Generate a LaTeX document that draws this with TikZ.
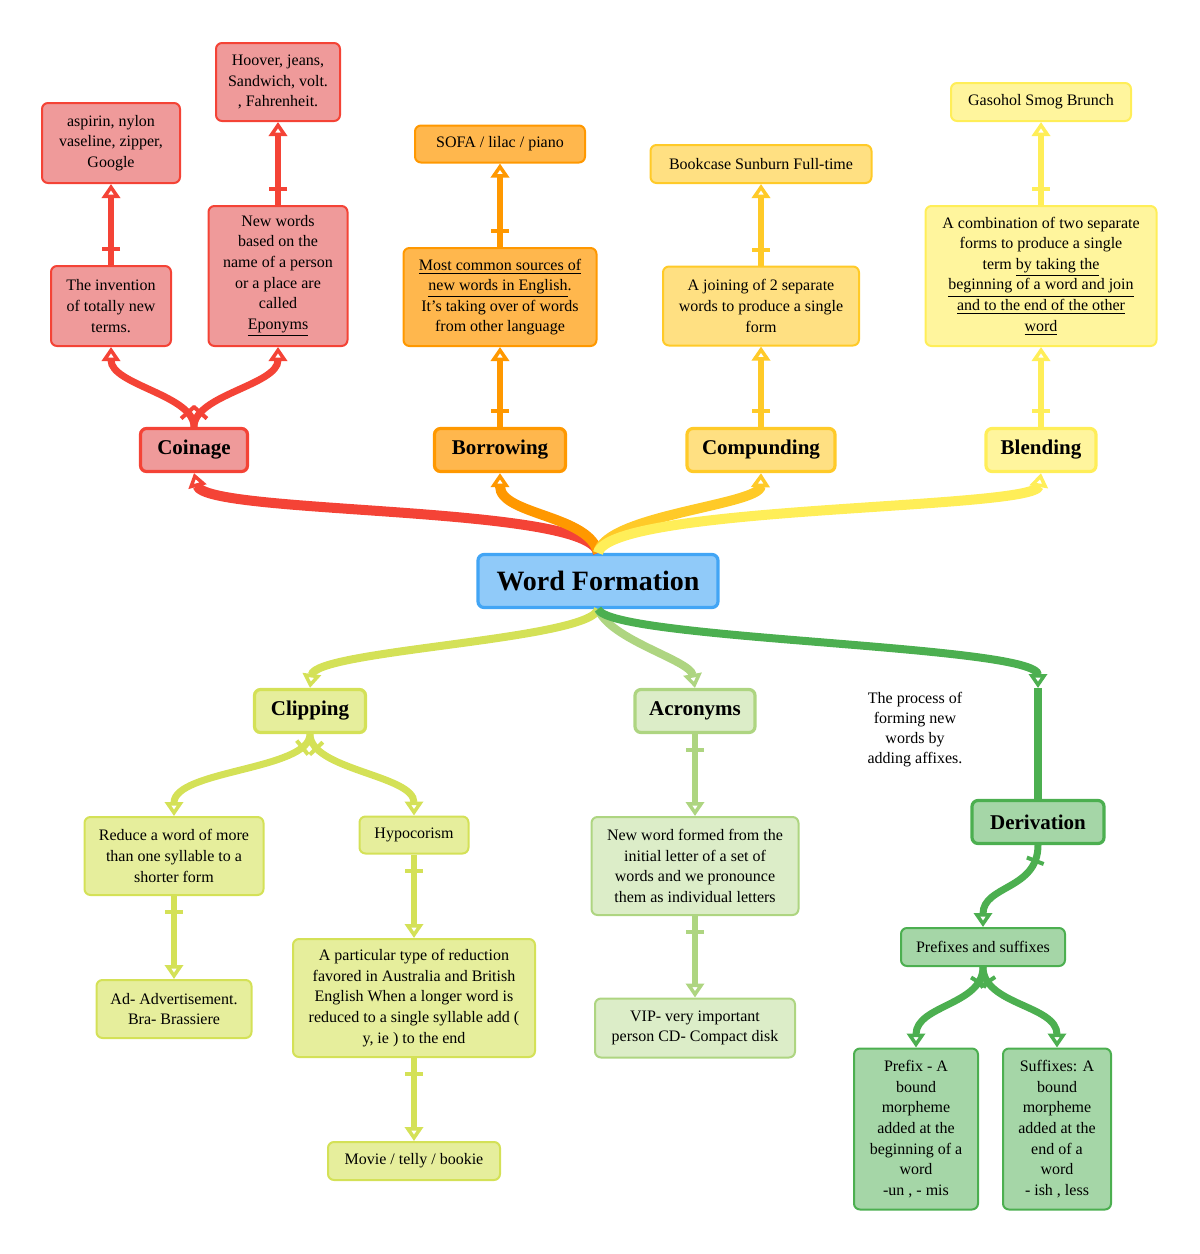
\documentclass[tikz,border=0pt]{standalone}
\usepackage{fontspec}
\setmainfont{Liberation Serif}
\usetikzlibrary{arrows.meta,decorations.markings}
\definecolor{lred}{HTML}{F44336}\definecolor{fred}{HTML}{EF9A9A}
\definecolor{lora}{HTML}{FF9800}\definecolor{fora}{HTML}{FFB74D}
\definecolor{lamb}{HTML}{FFCA28}\definecolor{famb}{HTML}{FFE082}
\definecolor{lyel}{HTML}{FFEE58}\definecolor{fyel}{HTML}{FFF59D}
\definecolor{llim}{HTML}{D4E157}\definecolor{flim}{HTML}{E6EE9C}
\definecolor{llgr}{HTML}{AED581}\definecolor{flgr}{HTML}{DCEDC8}
\definecolor{lgrn}{HTML}{4CAF50}\definecolor{fgrn}{HTML}{A5D6A7}
\definecolor{lblu}{HTML}{42A5F5}\definecolor{fblu}{HTML}{90CAF9}
\tikzset{
  bx/.style 2 args={draw=#2, fill=#1, line width=1pt, rounded corners=3pt, align=center, inner sep=1pt, font=\fontsize{8}{10.3}\selectfont},
  hd/.style 2 args={draw=#2, fill=#1, line width=1.6pt, rounded corners=3pt, align=center, inner sep=1pt, font=\bfseries\fontsize{10.5}{12}\selectfont},
  sz/.style 2 args={minimum width=#1, minimum height=#2},
  tip/.style={-{Triangle[open,length=7pt,width=9pt,line width=2.2pt]}},
  mainc/.style 2 args={color=#1, line width=#2, tip},
  cn/.style 2 args={color=#1, line width=#2, tip, postaction={decorate},
    decoration={markings, mark=at position 8pt with {\draw[line width=2pt,-] (0,-4.5pt) -- (0,4.5pt);}}},
}
\begin{document}
\begin{tikzpicture}[x=0.5pt,y=-0.5pt]
\useasboundingbox (0,0) rectangle (1200,1254);
% central
\node[hd={fblu}{lblu}, sz={120pt}{26.5pt}, font=\bfseries\fontsize{14}{16}\selectfont] (wf) at (598,581) {Word Formation};
% top headers
\node[hd={fred}{lred}, sz={53.5pt}{21.5pt}] (coin) at (194,450) {Coinage};
\node[hd={fora}{lora}, sz={65.5pt}{21.5pt}] (borr) at (500,450) {Borrowing};
\node[hd={famb}{lamb}, sz={74pt}{21.5pt}] (comp) at (761,450) {Compunding};
\node[hd={fyel}{lyel}, sz={55pt}{21.5pt}] (blen) at (1041,450) {Blending};
% bottom headers
\node[hd={flim}{llim}, sz={55.5pt}{21.5pt}] (clip) at (310,711) {Clipping};
\node[hd={flgr}{llgr}, sz={60pt}{21.5pt}] (acro) at (695,711) {Acronyms};
\node[hd={fgrn}{lgrn}, sz={66pt}{21.5pt}] (deri) at (1038,822) {Derivation};
% coinage children
\node[bx={fred}{lred}, sz={60pt}{40pt}] (inv) at (111,306) {The invention\\of totally new\\terms.};
\node[bx={fred}{lred}, sz={69.5pt}{70pt}] (epo) at (278,276) {New words\\based on the\\name of a person\\or a place are\\called\\\underline{Eponyms}};
\node[bx={fred}{lred}, sz={69pt}{40pt}] (asp) at (111,143) {aspirin, nylon\\vaseline, zipper,\\Google};
\node[bx={fred}{lred}, sz={62pt}{39pt}] (hoo) at (278,82) {Hoover, jeans,\\Sandwich, volt.\\, Fahrenheit.};
% borrowing
\node[bx={fora}{lora}, sz={96.5pt}{49pt}] (most) at (500,297) {\underline{Most common sources of}\\\underline{new words in English}.\\It's taking over of words\\from other language};
\node[bx={fora}{lora}, sz={85pt}{18.5pt}] (sofa) at (500,144) {SOFA / lilac / piano};
% compunding
\node[bx={famb}{lamb}, sz={98pt}{39.5pt}] (join) at (761,306) {A joining of 2 separate\\words to produce a single\\form};
\node[bx={famb}{lamb}, sz={110.5pt}{19pt}] (book) at (761,164) {Bookcase Sunburn Full-time};
% blending
\node[bx={fyel}{lyel}, sz={115.5pt}{70pt}] (comb) at (1041,276) {A combination of two separate\\forms to produce a single\\term \underline{by taking the}\\\underline{beginning of a word and join}\\\underline{and to the end of the other}\\\underline{word}};
\node[bx={fyel}{lyel}, sz={90pt}{19pt}] (gaso) at (1041,102) {Gasohol Smog Brunch};
% clipping
\node[bx={flim}{llim}, sz={89.5pt}{39pt}] (redu) at (174,856) {Reduce a word of more\\than one syllable to a\\shorter form};
\node[bx={flim}{llim}, sz={54.5pt}{18.5pt}] (hypo) at (414,835) {Hypocorism};
\node[bx={flim}{llim}, sz={77.5pt}{29pt}] (adv) at (174,1009) {Ad- Advertisement.\\Bra- Brassiere};
\node[bx={flim}{llim}, sz={121pt}{59pt}] (part) at (414,998) {A particular type of reduction\\favored in Australia and British\\English When a longer word is\\reduced to a single syllable add (\\y, ie ) to the end};
\node[bx={flim}{llim}, sz={86pt}{19pt}] (movi) at (414,1161) {Movie / telly / bookie};
% acronyms
\node[bx={flgr}{llgr}, sz={103.5pt}{49pt}] (neww) at (695,866) {New word formed from the\\initial letter of a set of\\words and we pronounce\\them as individual letters};
\node[bx={flgr}{llgr}, sz={100pt}{29.5pt}] (vip) at (695,1028) {VIP- very important\\person CD- Compact disk};
% derivation
\node[align=center, font=\fontsize{8}{10}\selectfont] (note) at (915,730) {The process of\\forming new\\words by\\adding affixes.};
\node[bx={fgrn}{lgrn}, sz={82pt}{19pt}] (pns) at (983,947) {Prefixes and suffixes};
\node[bx={fgrn}{lgrn}, sz={62pt}{80.5pt}] (pref) at (916,1129) {Prefix - A\\bound\\morpheme\\added at the\\beginning of a\\word\\-un , - mis};
\node[bx={fgrn}{lgrn}, sz={54pt}{80.5pt}] (suff) at (1057,1129) {Suffixes: A\\bound\\morpheme\\added at the\\end of a\\word\\- ish , less};
\coordinate (dv) at (1038,688);
% main connectors
\draw[mainc={lred}{5pt}] (wf.north) .. controls (590,505) and (205,515) .. (coin.south);
\draw[mainc={lora}{5pt}] (wf.north) .. controls (590,515) and (500,515) .. (borr.south);
\draw[mainc={lamb}{5pt}] (wf.north) .. controls (605,515) and (760,505) .. (comp.south);
\draw[mainc={lyel}{5pt}] (wf.north) .. controls (610,505) and (1035,510) .. (blen.south);
\draw[mainc={llim}{4pt}] (wf.south) .. controls (590,640) and (315,650) .. (clip.north);
\draw[mainc={llgr}{4pt}] (wf.south) .. controls (610,640) and (690,660) .. (acro.north);
\draw[mainc={lgrn}{4pt}] (wf.south) .. controls (610,640) and (1038,645) .. (dv);
\draw[color=lgrn, line width=4pt] (dv) -- (deri.north);
% child connectors
\draw[cn={lred}{3.5pt}] (coin.north) .. controls (194,395) and (111,385) .. (inv.south);
\draw[cn={lred}{3.5pt}] (coin.north) .. controls (194,395) and (278,385) .. (epo.south);
\draw[cn={lred}{3pt}] (inv.north) -- (asp.south);
\draw[cn={lred}{3pt}] (epo.north) -- (hoo.south);
\draw[cn={lora}{3pt}] (borr.north) -- (most.south);
\draw[cn={lora}{3pt}] (most.north) -- (sofa.south);
\draw[cn={lamb}{3pt}] (comp.north) -- (join.south);
\draw[cn={lamb}{3pt}] (join.north) -- (book.south);
\draw[cn={lyel}{3pt}] (blen.north) -- (comb.south);
\draw[cn={lyel}{3pt}] (comb.north) -- (gaso.south);
\draw[cn={llim}{3.5pt}] (clip.south) .. controls (310,770) and (174,770) .. (redu.north);
\draw[cn={llim}{3.5pt}] (clip.south) .. controls (310,770) and (414,775) .. (hypo.north);
\draw[cn={llim}{3pt}] (redu.south) -- (adv.north);
\draw[cn={llim}{3pt}] (hypo.south) -- (part.north);
\draw[cn={llim}{3pt}] (part.south) -- (movi.north);
\draw[cn={llgr}{3pt}] (acro.south) -- (neww.north);
\draw[cn={llgr}{3pt}] (neww.south) -- (vip.north);
\draw[cn={lgrn}{3.5pt}] (deri.south) .. controls (1038,890) and (983,885) .. (pns.north);
\draw[cn={lgrn}{3.5pt}] (pns.south) .. controls (983,1005) and (916,1005) .. (pref.north);
\draw[cn={lgrn}{3.5pt}] (pns.south) .. controls (983,1005) and (1057,1005) .. (suff.north);
\end{tikzpicture}
\end{document}
